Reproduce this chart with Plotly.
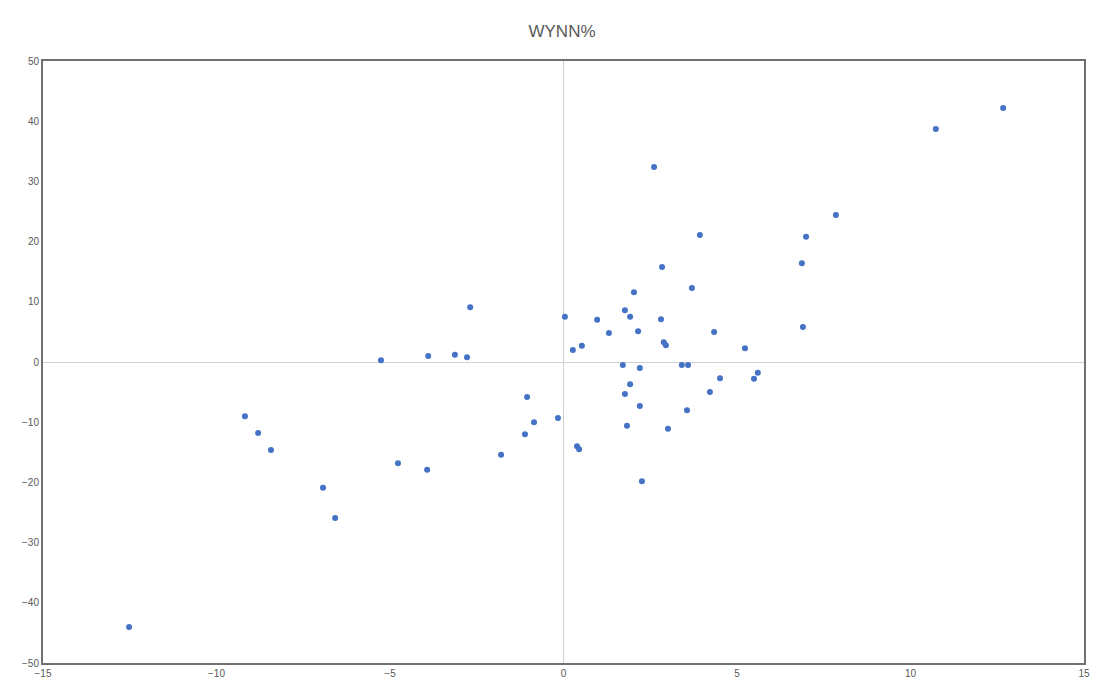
import plotly.graph_objects as go

x_vals = [12.67, 10.73, 7.85, 6.99, 6.87, 6.9, 5.23, 5.6, 5.49, 3.93, 3.7, 2.61, 2.84, 2.81,
          2.89, 2.95, 2.03, 1.77, 1.92, 2.15, 1.31, 0.97, 0.04, 0.27, 0.53, 4.34, 3.41, 3.59,
          1.71, 2.2, 4.51, 4.22, 1.92, 1.77, 2.2, 3.56, 1.83, 3.01, 2.26, 0.39, 0.45, -0.16,
          -0.85, -1.05, -1.11, -1.8, -2.69, -2.78, -3.13, -3.9, -5.26, -3.93, -4.77, -6.58,
          -6.93, -8.43, -8.8, -9.18, -12.52]
y_vals = [42.2, 38.7, 24.4, 20.8, 16.4, 5.8, 2.3, -1.8, -2.8, 21.1, 12.3, 32.4, 15.8, 7.1,
          3.3, 2.8, 11.6, 8.6, 7.5, 5.1, 4.8, 7.0, 7.5, 2.0, 2.7, 5.0, -0.5, -0.5,
          -0.5, -1.0, -2.7, -5.0, -3.7, -5.3, -7.3, -8.0, -10.6, -11.1, -19.8, -14.0, -14.5, -9.3,
          -10.0, -5.8, -12.0, -15.4, 9.1, 0.8, 1.2, 1.0, 0.3, -17.9, -16.8, -25.9,
          -20.9, -14.6, -11.8, -9.0, -44.0]

fig = go.Figure()
fig.add_trace(go.Scatter(x=x_vals, y=y_vals, mode='markers',
                         marker=dict(color='#4472c4', size=6)))

axis_common = dict(showgrid=False, zeroline=True, zerolinecolor='#d0d0d0', zerolinewidth=1,
                   showline=True, linecolor='#707070', linewidth=2, mirror=True,
                   tickfont=dict(size=10, color='#595959'), ticks='')
fig.update_xaxes(range=[-15, 15], tickvals=[-15, -10, -5, 0, 5, 10, 15], **axis_common)
fig.update_yaxes(range=[-50, 50], tickvals=[-50, -40, -30, -20, -10, 0, 10, 20, 30, 40, 50],
                 **axis_common)

fig.update_layout(
    title=dict(text='WYNN%', x=0.5, y=0.975, xanchor='center',
               font=dict(size=17, color='#595959', family='Liberation Sans')),
    width=1108, height=696,
    margin=dict(l=35, r=32, t=53, b=41),
    paper_bgcolor='white', plot_bgcolor='white',
    showlegend=False,
    font=dict(family='Liberation Sans'),
)

fig.write_html("out.html")
